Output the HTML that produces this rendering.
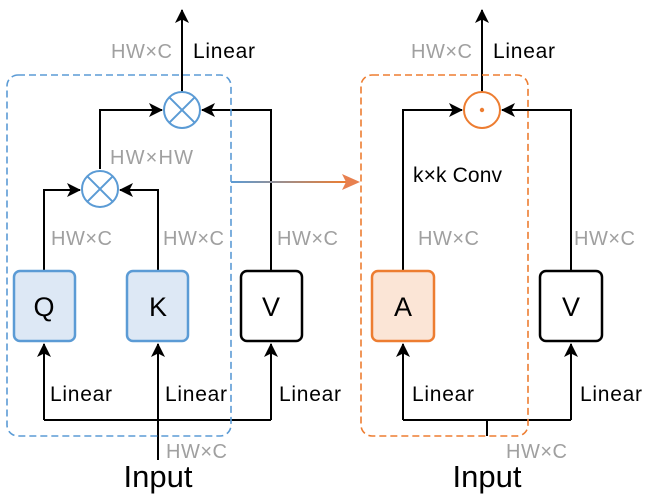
<!DOCTYPE html>
<html><head><meta charset="utf-8"><style>body{margin:0;background:#fff}svg{display:block}</style></head>
<body>
<svg width="647" height="497" viewBox="0 0 647 497" xmlns="http://www.w3.org/2000/svg" font-family="Liberation Sans, sans-serif">
<defs>
<marker id="ah" markerWidth="16" markerHeight="16" refX="13" refY="7" orient="auto" markerUnits="userSpaceOnUse"><path d="M0,0 L14,7 L0,14 L3.5,7 Z" fill="#000"/></marker>
<linearGradient id="g" gradientUnits="userSpaceOnUse" x1="231" y1="0" x2="346" y2="0"><stop offset="0" stop-color="#5b9bd5"/><stop offset="1" stop-color="#ed7d31"/></linearGradient>
</defs>
<g fill="none" stroke="#000" stroke-width="2">
<path d="M44,420 H271 M158,460 V420"/>
<path d="M44,420 V344" marker-end="url(#ah)"/>
<path d="M158,420 V344" marker-end="url(#ah)"/>
<path d="M271,420 V344" marker-end="url(#ah)"/>
<path d="M44,270 V190 H80" marker-end="url(#ah)"/>
<path d="M158,270 V190 H120" marker-end="url(#ah)"/>
<path d="M100,169 V110 H162" marker-end="url(#ah)"/>
<path d="M271,270 V110 H202" marker-end="url(#ah)"/>
<path d="M182,92 V10" marker-end="url(#ah)"/>
<path d="M403,420 H571 M487,420 V436"/>
<path d="M403,420 V344" marker-end="url(#ah)"/>
<path d="M571,420 V344" marker-end="url(#ah)"/>
<path d="M403,270 V110 H462" marker-end="url(#ah)"/>
<path d="M571,270 V110 H502" marker-end="url(#ah)"/>
<path d="M482,92 V10" marker-end="url(#ah)"/>
</g>
<rect x="7" y="75" width="224" height="361" rx="11" fill="none" stroke="#5b9bd5" stroke-width="1.6" stroke-dasharray="7,4"/>
<rect x="361" y="75" width="167" height="361" rx="11" fill="none" stroke="#ed7d31" stroke-width="1.6" stroke-dasharray="7,4"/>
<rect x="231" y="181" width="115" height="2" fill="url(#g)"/>
<path d="M342,174 L360,182 L342,190 L346,182 Z" fill="#e8804f"/>
<rect x="14" y="271" width="61" height="70" rx="6" fill="#dde8f5" stroke="#5b9bd5" stroke-width="2.5"/>
<rect x="127" y="271" width="61" height="70" rx="6" fill="#dde8f5" stroke="#5b9bd5" stroke-width="2.5"/>
<rect x="241" y="271" width="61" height="70" rx="6" fill="#fff" stroke="#000" stroke-width="2.5"/>
<rect x="372" y="271" width="62" height="70" rx="6" fill="#fbe5d6" stroke="#ed7d31" stroke-width="2.5"/>
<rect x="540" y="271" width="62" height="70" rx="6" fill="#fff" stroke="#000" stroke-width="2.5"/>
<g fill="#fff" stroke="#5b9bd5" stroke-width="2">
<circle cx="100" cy="189" r="18"/><path d="M87.3,176.3 L112.7,201.7 M112.7,176.3 L87.3,201.7"/>
<circle cx="182" cy="110" r="18"/><path d="M169.3,97.3 L194.7,122.7 M194.7,97.3 L169.3,122.7"/>
</g>
<circle cx="482" cy="110" r="18" fill="#fff" stroke="#ed7d31" stroke-width="2"/>
<circle cx="482" cy="110" r="2.2" fill="#ed7d31"/>
<g font-size="27" fill="#000" text-anchor="middle">
<text x="44" y="316">Q</text><text x="158" y="316">K</text><text x="271" y="316">V</text>
<text x="403" y="316">A</text><text x="571" y="316">V</text>
</g>
<g font-size="31" fill="#000" text-anchor="middle">
<text x="158" y="487">Input</text><text x="487" y="487">Input</text>
</g>
<g font-size="21" fill="#000">
<text x="50" y="401" textLength="62">Linear</text>
<text x="165" y="401" textLength="62">Linear</text>
<text x="279" y="401" textLength="62">Linear</text>
<text x="412" y="401" textLength="62">Linear</text>
<text x="580" y="401" textLength="62">Linear</text>
<text x="193" y="58" textLength="62">Linear</text>
<text x="493" y="58" textLength="62">Linear</text>
<text x="413" y="182" textLength="89">k×k Conv</text>
</g>
<g font-size="20" fill="#a0a0a0">
<text x="111" y="58" textLength="61">HW×C</text>
<text x="411" y="58" textLength="61">HW×C</text>
<text x="110" y="164" textLength="83">HW×HW</text>
<text x="51" y="245" textLength="61">HW×C</text>
<text x="163" y="245" textLength="61">HW×C</text>
<text x="277" y="245" textLength="61">HW×C</text>
<text x="418" y="245" textLength="61">HW×C</text>
<text x="574" y="245" textLength="61">HW×C</text>
<text x="166" y="458" textLength="61">HW×C</text>
<text x="506" y="458" textLength="61">HW×C</text>
</g>
</svg>
</body></html>
